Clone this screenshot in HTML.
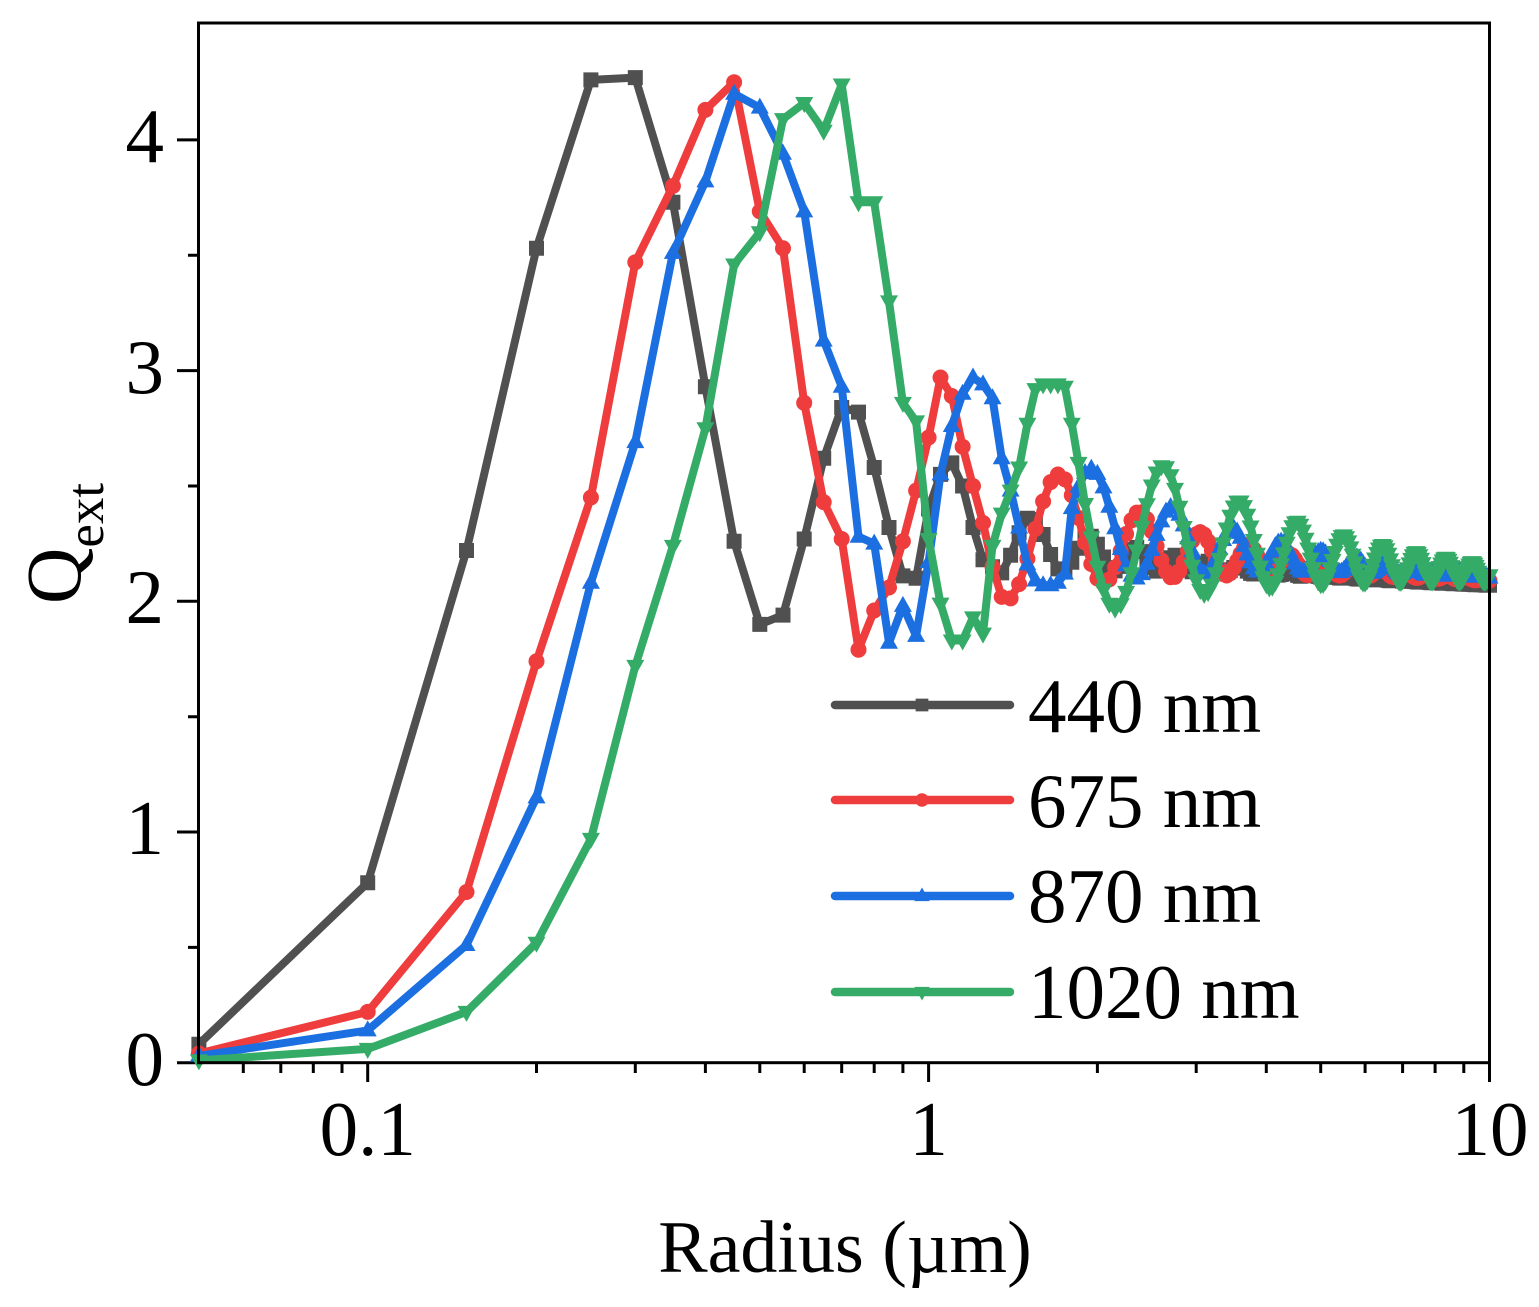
<!DOCTYPE html>
<html>
<head>
<meta charset="utf-8">
<style>
  html, body { margin: 0; padding: 0; background: #ffffff; }
  svg { display: block; }
  text { font-family: "Liberation Serif", "Times New Roman", serif; fill: #000; }
</style>
</head>
<body>
<svg id="chart" width="1539" height="1307" viewBox="0 0 1539 1307" xmlns="http://www.w3.org/2000/svg">
  <rect x="0" y="0" width="1539" height="1307" fill="#ffffff"/>
  <g id="ticks" stroke="#000" stroke-width="3" fill="none"></g>
  <g id="series"></g>
  <!-- frame -->
  <rect x="198.5" y="23" width="1291" height="1039.7" fill="none" stroke="#000" stroke-width="3"/>

  <!-- y tick labels -->
  <g font-size="77" text-anchor="end">
    <text x="164" y="1085">0</text>
    <text x="164" y="854">1</text>
    <text x="164" y="623">2</text>
    <text x="164" y="393">3</text>
    <text x="164" y="162">4</text>
  </g>
  <!-- x tick labels -->
  <g font-size="77" text-anchor="middle">
    <text x="367.7" y="1155">0.1</text>
    <text x="928.6" y="1155">1</text>
    <text x="1490" y="1155">10</text>
  </g>
  <!-- axis titles -->
  <text x="845" y="1272" font-size="74" text-anchor="middle">Radius (µm)</text>
  <g transform="translate(80,604) rotate(-90)">
    <text x="0" y="0" font-size="78">Q<tspan font-size="53" dy="23">ext</tspan></text>
  </g>

  <!-- legend -->
  <g id="legend"></g>
  <g font-size="77">
    <text x="1028" y="732">440 nm</text>
    <text x="1028" y="827">675 nm</text>
    <text x="1028" y="922">870 nm</text>
    <text x="1028" y="1018">1020 nm</text>
  </g>
</svg>
<script>
(function(){
  var NS = "http://www.w3.org/2000/svg";
  var X = function(r){ return 928.6 + 560.9*Math.log10(r); };
  var Y = function(q){ return 1062.7 - 230.7*q; };

  var t = document.getElementById("ticks");
  var d = "";
  for (var q=0; q<=4; q++){ var y=Y(q); d += "M177 "+y.toFixed(1)+" H198.5 "; }
  [0.5,1.5,2.5,3.5].forEach(function(q){ var y=Y(q); d += "M188 "+y.toFixed(1)+" H198.5 "; });
  [0.1,1,10].forEach(function(r){ var x=X(r); d += "M"+x.toFixed(1)+" 1062.7 V1082 "; });
  var minors=[0.06,0.07,0.08,0.09];
  for (var k=2;k<=9;k++){ minors.push(k/10); minors.push(k); }
  minors.forEach(function(r){ var x=X(r); d += "M"+x.toFixed(1)+" 1062.7 V1073 "; });
  var tp = document.createElementNS(NS,"path"); tp.setAttribute("d", d); t.appendChild(tp);

  function model(r,p){
    var x=2*Math.PI*r/p.l;
    var rho=2*Math.PI*r/p.P;
    return 2 + 1.9*Math.pow(x,-2/3) + 6.5/rho*Math.exp(-p.d*rho)*Math.cos(2*Math.PI*(r-p.rp)/p.P);
  }

  var series = [
    { color:"#505050", marker:"sq", p:{l:0.44,P:0.41,rp:1.12,d:0.035},
      h:[0.08,0.78,2.22,3.53,4.26,4.27,3.73,2.93,2.26,1.90,1.94,2.27,2.62,2.84,2.82,2.58,2.32,2.11,2.10,2.40,2.55,2.60,2.50,2.32,2.18,2.15] },
    { color:"#EF3D3D", marker:"ci", p:{l:0.675,P:0.67,rp:1.05,d:0.03},
      h:[0.04,0.22,0.74,1.74,2.45,3.47,3.80,4.13,4.25,3.69,3.53,2.86,2.43,2.27,1.79,1.96,2.06,2.26,2.48,2.71,2.97,2.89,2.67,2.50,2.34,2.15] },
    { color:"#1C6FE0", marker:"up", p:{l:0.87,P:0.765,rp:1.2,d:0.03},
      h:[0.03,0.14,0.51,1.15,2.08,2.69,3.51,3.82,4.20,4.14,3.94,3.69,3.13,2.93,2.28,2.25,1.82,1.98,1.85,2.17,2.55,2.76,2.90,2.97,2.94,2.88,2.62,2.48,2.32,2.16,2.09,2.07,2.07,2.08,2.12] },
    { color:"#34AB67", marker:"dn", p:{l:1.02,P:0.955,rp:1.68,d:0.015},
      h:[0.01,0.06,0.22,0.52,0.97,1.72,2.24,2.75,3.46,3.60,4.09,4.16,4.04,4.24,3.73,3.73,3.30,2.86,2.78,2.27,1.99,1.83,1.83,1.93,1.86,2.24,2.38,2.48,2.58,2.77,2.92,2.94,2.94,2.94,2.93,2.77,2.60] }
  ];

  function markerPath(type,x,y,s){
    s = s||1;
    if (type==="sq"){ var a=7.5*s; return "M"+(x-a)+" "+(y-a)+"h"+(2*a)+"v"+(2*a)+"h"+(-2*a)+"z"; }
    if (type==="ci"){ var r=8*s; return "M"+(x-r)+" "+y+"a"+r+" "+r+" 0 1 0 "+(2*r)+" 0a"+r+" "+r+" 0 1 0 "+(-2*r)+" 0z"; }
    if (type==="up"){ return "M"+x+" "+(y-10*s)+"L"+(x+9*s)+" "+(y+6*s)+"L"+(x-9*s)+" "+(y+6*s)+"z"; }
    return "M"+x+" "+(y+10*s)+"L"+(x+9*s)+" "+(y-6*s)+"L"+(x-9*s)+" "+(y-6*s)+"z";
  }

  var g = document.getElementById("series");
  series.forEach(function(s){
    var pts=[];
    for (var i=1;i<=200;i++){
      var r=i*0.05;
      var q = (i-1 < s.h.length) ? s.h[i-1] : model(r,s.p);
      pts.push([X(r),Y(q)]);
    }
    var ld = "M"+pts.map(function(p){return p[0].toFixed(1)+" "+p[1].toFixed(1);}).join("L");
    var line=document.createElementNS(NS,"path");
    line.setAttribute("d",ld); line.setAttribute("fill","none");
    line.setAttribute("stroke",s.color); line.setAttribute("stroke-width","8");
    line.setAttribute("stroke-linejoin","round"); line.setAttribute("stroke-linecap","round");
    g.appendChild(line);
    var md = pts.map(function(p){return markerPath(s.marker,+p[0].toFixed(1),+p[1].toFixed(1));}).join("");
    var mk=document.createElementNS(NS,"path");
    mk.setAttribute("d",md); mk.setAttribute("fill",s.color);
    g.appendChild(mk);
  });

  var lg=document.getElementById("legend");
  var ly=[705,800,896,992];
  series.forEach(function(s,i){
    var l=document.createElementNS(NS,"path");
    l.setAttribute("d","M835 "+ly[i]+" H1010");
    l.setAttribute("stroke",s.color); l.setAttribute("stroke-width","8.5");
    l.setAttribute("stroke-linecap","round"); l.setAttribute("fill","none");
    lg.appendChild(l);
    var m=document.createElementNS(NS,"path");
    m.setAttribute("d",markerPath(s.marker,922,ly[i],0.85));
    m.setAttribute("fill",s.color);
    lg.appendChild(m);
  });
})();
</script>
</body>
</html>
